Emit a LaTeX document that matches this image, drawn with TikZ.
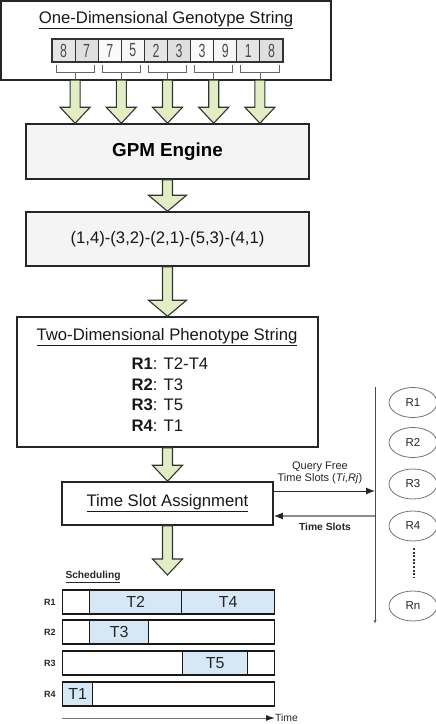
\documentclass[tikz,border=0pt]{standalone}
\usepackage{fontspec}
\setmainfont{Liberation Sans}
\usetikzlibrary{arrows.meta,shapes.geometric,calc}
\definecolor{arrowgreen}{RGB}{226,237,196}
\definecolor{slotblue}{RGB}{214,232,246}
\definecolor{boxgray}{RGB}{244,244,244}
\newcommand{\blockarrow}[3][15]{%
  \filldraw[barrow] let \p1=#2, \p2=#3 in
   (\x1-5pt,\y1) -- (\x1-5pt,\y2+16pt) -- (\x1-#1pt,\y2+16pt) -- (\x1,\y2)
   -- (\x1+#1pt,\y2+16pt) -- (\x1+5pt,\y2+16pt) -- (\x1+5pt,\y1) -- cycle;}
\begin{document}
\begin{tikzpicture}[x=1pt,y=-1pt,
  box/.style={draw=black!85, line width=1.5pt, inner sep=0pt},
  cell/.style={draw=black!80, line width=1.1pt, minimum width=23.1pt, minimum height=23pt, inner sep=0pt, font=\fontsize{19}{19}\selectfont, text=black!70},
  barrow/.style={fill=arrowgreen, draw=black!80, line width=1.1pt, line join=miter},
  bigtext/.style={font=\fontsize{16.7}{18}\selectfont, text=black!90},
  seg/.style={draw=black!90, line width=1.3pt, minimum height=24pt, inner sep=0pt, anchor=west, font=\fontsize{16}{16}\selectfont, text=black!85},
  rowlab/.style={font=\bfseries\fontsize{9}{9}\selectfont, text=black!85},
  res/.style={ellipse, draw=black!55, line width=0.8pt, fill=white, minimum width=48pt, minimum height=30pt, inner sep=0pt, font=\fontsize{11.5}{11.5}\selectfont, text=black!85},
  brk/.style={draw=black!60, line width=0.8pt}
]
\useasboundingbox (0,0) rectangle (436,724);

% genotype box
\node[box, fill=white, minimum width=330pt, minimum height=79pt] (geno) at (166,40.5) {};
\node[bigtext] (genotitle) at (166,20) {\underline{One-Dimensional Genotype String}};
\foreach \d/\f [count=\i from 0] in {8/gray!20,7/gray!25,7/gray!4,5/gray!7,2/gray!20,3/gray!25,3/gray!4,9/gray!7,1/gray!20,8/gray!25}{
  \node[cell, fill=\f] (c\i) at ({52+23.1*(\i+0.5)},50.5) {\scalebox{0.65}[1]{\d}};
}
\foreach \k in {1,...,5}{
  \pgfmathsetmacro\xl{52+46.2*(\k-1)+4}
  \pgfmathsetmacro\xr{52+46.2*\k-4}
  \pgfmathsetmacro\xc{52+46.2*(\k-0.5)}
  \draw[brk] (\xl,65) -- (\xl,72) -- (\xr,72) -- (\xr,65);
  \coordinate (b\k) at (\xc,80);
  \draw[brk] (\xc,72) -- (b\k);
}

% GPM engine
\node[box, fill=boxgray, minimum width=283pt, minimum height=55pt, font=\bfseries\fontsize{18.8}{20}\selectfont] (gpm) at (167.5,151.5) {GPM Engine};
\foreach \k in {1,...,5}{ \blockarrow{(b\k)}{(gpm.north -| b\k)} }

% coordinate string
\node[box, fill=boxgray, minimum width=283pt, minimum height=54pt, bigtext] (coords) at (167.5,239) {(1,4)-(3,2)-(2,1)-(5,3)-(4,1)};
\blockarrow[19]{(gpm.south)}{(coords.north)}

% phenotype
\node[box, fill=white, minimum width=301pt, minimum height=130pt] (pheno) at (167.5,382) {};
\node[bigtext] (phenotitle) at (167,337) {\underline{Two-Dimensional Phenotype String}};
\node[bigtext, anchor=west] (p1) at (128,364) {\textbf{R1}: T2-T4};
\node[bigtext, anchor=west] (p2) at (128,384.5) {\textbf{R2}: T3};
\node[bigtext, anchor=west] (p3) at (128,405) {\textbf{R3}: T5};
\node[bigtext, anchor=west] (p4) at (128,425.5) {\textbf{R4}: T1};
\blockarrow[19]{(coords.south)}{(pheno.north)}

% time slot assignment
\node[box, fill=white, minimum width=211pt, minimum height=43pt, bigtext] (tsa) at (167.5,503.5) {\underline{Time Slot Assignment}};
\blockarrow{(pheno.south)}{(tsa.north)}

% resources
\coordinate (vtop) at (375,387);
\coordinate (vbot) at (375,623);
\draw[draw=black!70, line width=0.8pt, -{Stealth[length=3pt,width=3pt]}] (vtop) -- (vbot);
\node[res] (r1) at (413,402.5) {R1};
\node[res] (r2) at (413,442.5) {R2};
\node[res] (r3) at (413,484) {R3};
\node[res] (r4) at (413,526) {R4};
\node[res] (rn) at (413,606) {Rn};
\coordinate (d1) at (414,548);
\coordinate (d2) at (414,577);
\draw[black!80, line width=2pt, dash pattern=on 2pt off 1.6pt] (d1) -- (d2);

\coordinate (qend) at (375,491);
\coordinate (tstart) at (375,516);
\draw[black!85, line width=1pt, -{Latex[length=9pt,width=7pt]}] (tsa.east |- qend) -- (qend);
\draw[black!45, line width=1.3pt, -{Latex[length=9pt,width=7pt,color=black!85]}] (tstart) -- (tsa.east |- tstart);
\node[font=\fontsize{11}{12.5}\selectfont, align=center, text=black!85] (qlab) at (320,473) {Query Free\\Time Slots (\textit{Ti},\textit{Rj})};
\node[font=\bfseries\fontsize{10.3}{11}\selectfont, text=black!85] (tslab) at (325,527) {Time Slots};

% scheduling
\coordinate (sched) at (167.5,560);
\blockarrow{(tsa.south)}{(tsa.south |- 0,575)}
\node[font=\bfseries\fontsize{10.2}{11}\selectfont, text=black!85] (schedlab) at (93,577) {\underline{Scheduling}};

% R1
\node[seg, fill=white, minimum width=27pt] (a1) at (62,602) {};
\node[seg, fill=slotblue, minimum width=92pt] (a2) at (89,602) {T2};
\node[seg, fill=slotblue, minimum width=93pt] (a3) at (181,602) {T4};
\node[rowlab] (l1) at (50,602) {R1};
% R2
\node[seg, fill=white, minimum width=27pt] (b1s) at (62,632) {};
\node[seg, fill=slotblue, minimum width=59pt] (b2s) at (89,632) {T3};
\node[seg, fill=white, minimum width=126pt] (b3s) at (148,632) {};
\node[rowlab] (l2) at (50,632) {R2};
% R3
\node[seg, fill=white, minimum width=120pt] (c1s) at (62,663) {};
\node[seg, fill=slotblue, minimum width=65pt] (c2s) at (182,663) {T5};
\node[seg, fill=white, minimum width=27pt] (c3s) at (247,663) {};
\node[rowlab] (l3) at (50,663) {R3};
% R4
\node[seg, fill=slotblue, minimum width=30pt] (d1s) at (62,694) {T1};
\node[seg, fill=white, minimum width=182pt] (d2s) at (92,694) {};
\node[rowlab] (l4) at (50,694) {R4};

% time axis
\coordinate (t0) at (62,718);
\node[font=\fontsize{10.4}{11}\selectfont, anchor=west, inner sep=0pt, text=black!85] (timelab) at (275,718) {Time};
\draw[black!55, line width=1pt, -{Latex[length=9pt,width=6pt,color=black!85]}] (t0) -- (timelab.west);
\end{tikzpicture}
\end{document}
